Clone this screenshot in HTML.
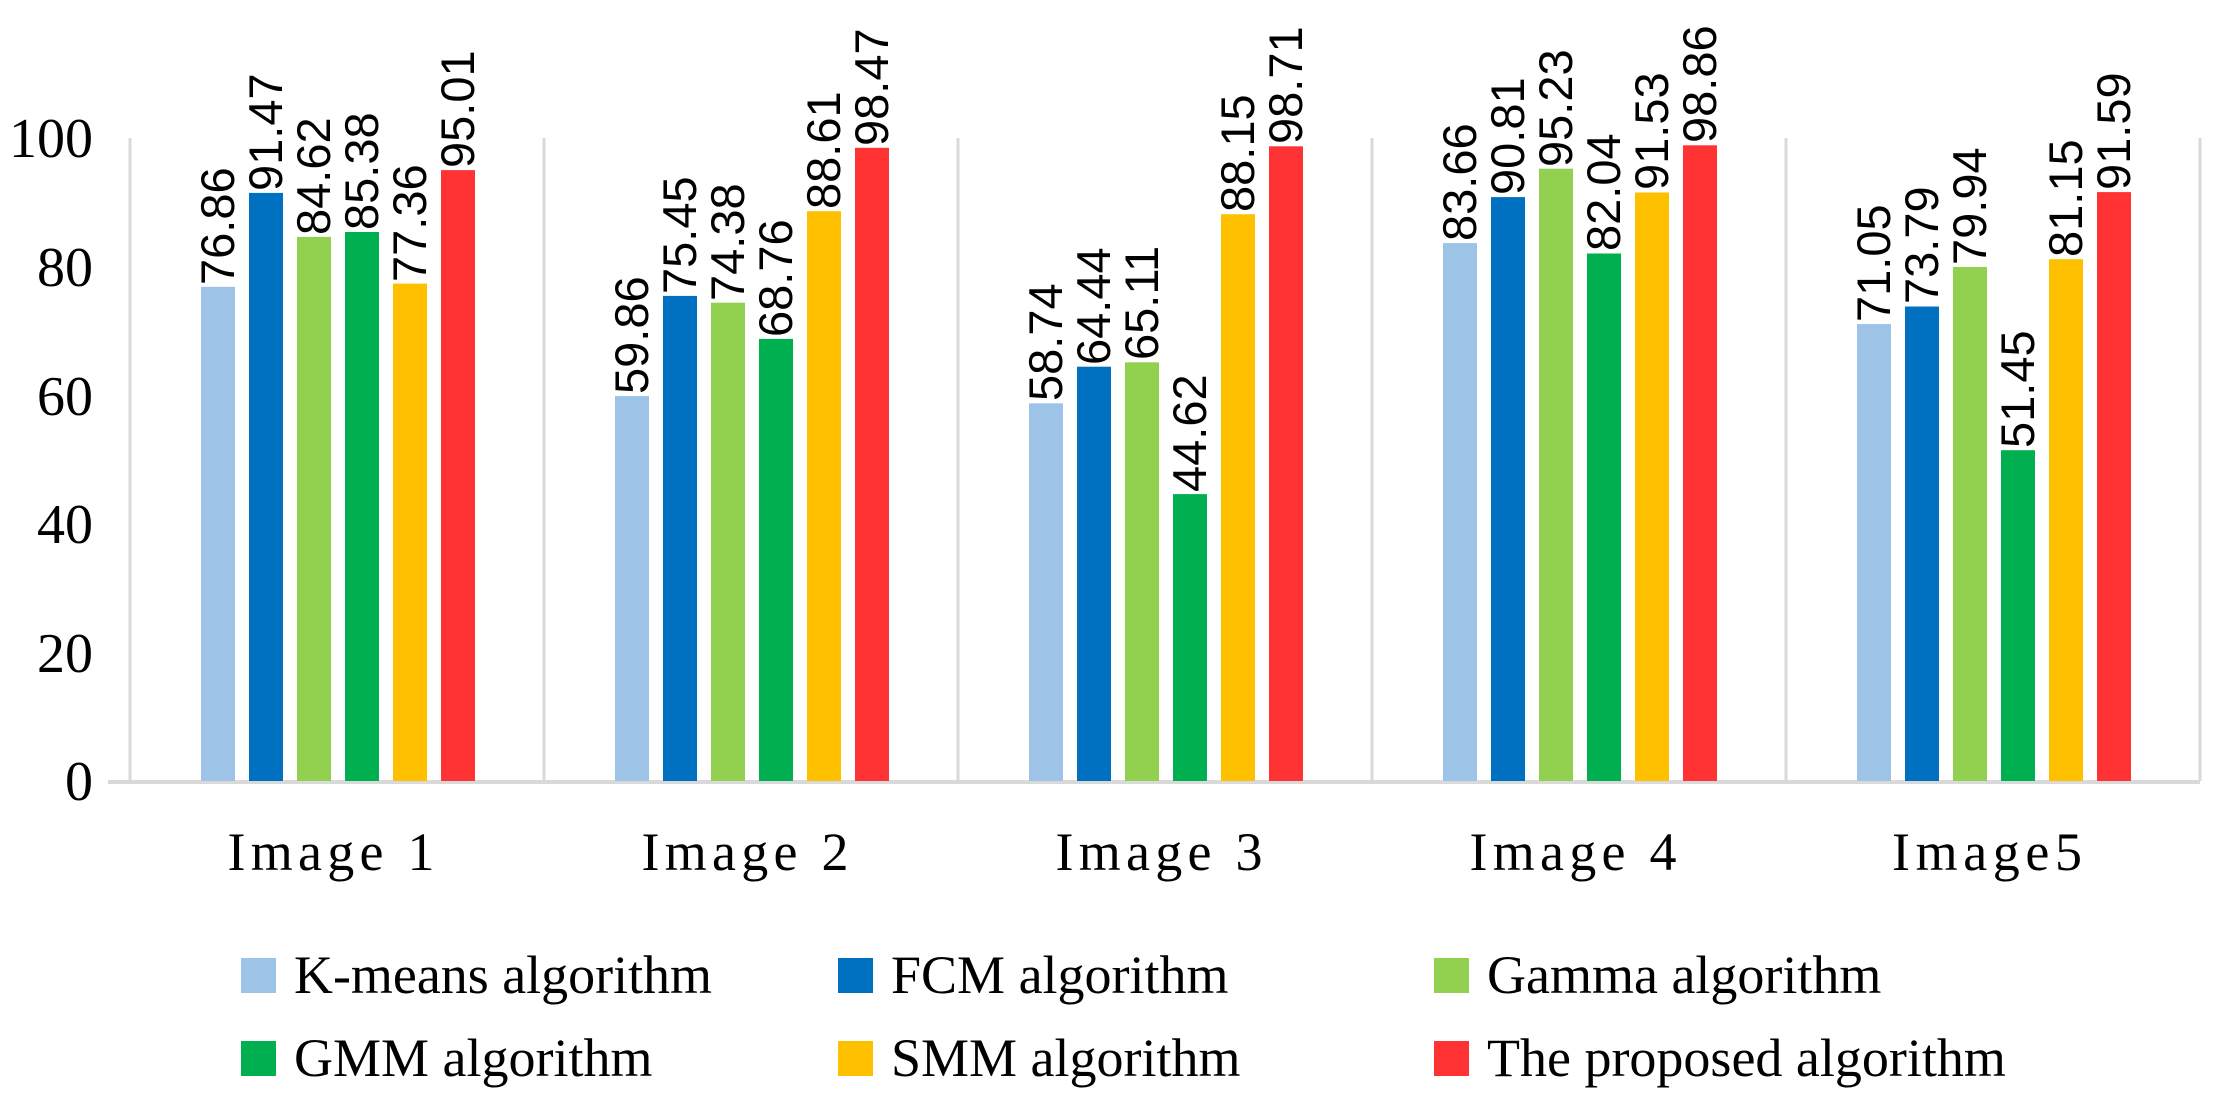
<!DOCTYPE html>
<html><head><meta charset="utf-8"><style>
html,body{margin:0;padding:0;background:#fff;width:2226px;height:1099px;overflow:hidden}
svg text{fill:#000}
</style></head><body>
<svg width="2226" height="1099" viewBox="0 0 2226 1099" xmlns="http://www.w3.org/2000/svg">
<g stroke="#d9d9d9" stroke-width="3">
<line x1="130" y1="138" x2="130" y2="781"/>
<line x1="544" y1="138" x2="544" y2="781"/>
<line x1="958" y1="138" x2="958" y2="781"/>
<line x1="1372" y1="138" x2="1372" y2="781"/>
<line x1="1786" y1="138" x2="1786" y2="781"/>
<line x1="2200" y1="138" x2="2200" y2="781"/>
<line x1="108" y1="782" x2="2200" y2="782" stroke-width="4"/>
</g>
<g font-family="Liberation Serif, serif" font-size="56" text-anchor="end">
<text x="93" y="157">100</text>
<text x="93" y="286">80</text>
<text x="93" y="415">60</text>
<text x="93" y="543">40</text>
<text x="93" y="672">20</text>
<text x="93" y="800">0</text>
</g>
<g font-family="Liberation Serif, serif" font-size="54" text-anchor="middle">
<text x="331" y="870" textLength="207" lengthAdjust="spacing">Image 1</text>
<text x="745" y="870" textLength="207" lengthAdjust="spacing">Image 2</text>
<text x="1159" y="870" textLength="207" lengthAdjust="spacing">Image 3</text>
<text x="1573" y="870" textLength="207" lengthAdjust="spacing">Image 4</text>
<text x="1987" y="870" textLength="190" lengthAdjust="spacing">Image5</text>
</g>
<g>
<rect x="241" y="958" width="35" height="35" fill="#9dc3e6"/>
<rect x="838" y="958" width="35" height="35" fill="#0070c0"/>
<rect x="1434" y="958" width="35" height="35" fill="#92d050"/>
<rect x="241" y="1041" width="35" height="35" fill="#00b050"/>
<rect x="838" y="1041" width="35" height="35" fill="#ffc000"/>
<rect x="1434" y="1041" width="35" height="35" fill="#ff3333"/>
</g>
<g font-family="Liberation Serif, serif" font-size="54">
<text x="294" y="993" textLength="418" lengthAdjust="spacingAndGlyphs">K-means algorithm</text>
<text x="891" y="993">FCM algorithm</text>
<text x="1487" y="993">Gamma algorithm</text>
<text x="294" y="1076">GMM algorithm</text>
<text x="891" y="1076">SMM algorithm</text>
<text x="1487" y="1076">The proposed algorithm</text>
</g>
<g font-family="Liberation Sans, sans-serif" font-size="47">
<rect x="201" y="286.8" width="34" height="494.2" fill="#9dc3e6"/><text transform="translate(234,285) rotate(-90)">76.86</text>
<rect x="249" y="192.9" width="34" height="588.1" fill="#0070c0"/><text transform="translate(282,191) rotate(-90)">91.47</text>
<rect x="297" y="236.9" width="34" height="544.1" fill="#92d050"/><text transform="translate(330,235) rotate(-90)">84.62</text>
<rect x="345" y="232.0" width="34" height="549.0" fill="#00b050"/><text transform="translate(378,230) rotate(-90)">85.38</text>
<rect x="393" y="283.6" width="34" height="497.4" fill="#ffc000"/><text transform="translate(426,282) rotate(-90)">77.36</text>
<rect x="441" y="170.1" width="34" height="610.9" fill="#ff3333"/><text transform="translate(474,168) rotate(-90)">95.01</text>

<rect x="615" y="396.1" width="34" height="384.9" fill="#9dc3e6"/><text transform="translate(648,394) rotate(-90)">59.86</text>
<rect x="663" y="295.9" width="34" height="485.1" fill="#0070c0"/><text transform="translate(696,294) rotate(-90)">75.45</text>
<rect x="711" y="302.7" width="34" height="478.3" fill="#92d050"/><text transform="translate(744,301) rotate(-90)">74.38</text>
<rect x="759" y="338.9" width="34" height="442.1" fill="#00b050"/><text transform="translate(792,337) rotate(-90)">68.76</text>
<rect x="807" y="211.2" width="34" height="569.8" fill="#ffc000"/><text transform="translate(840,209) rotate(-90)">88.61</text>
<rect x="855" y="147.8" width="34" height="633.2" fill="#ff3333"/><text transform="translate(888,146) rotate(-90)">98.47</text>

<rect x="1029" y="403.3" width="34" height="377.7" fill="#9dc3e6"/><text transform="translate(1062,401) rotate(-90)">58.74</text>
<rect x="1077" y="366.7" width="34" height="414.3" fill="#0070c0"/><text transform="translate(1110,365) rotate(-90)">64.44</text>
<rect x="1125" y="362.3" width="34" height="418.7" fill="#92d050"/><text transform="translate(1158,360) rotate(-90)">65.11</text>
<rect x="1173" y="494.1" width="34" height="286.9" fill="#00b050"/><text transform="translate(1206,492) rotate(-90)">44.62</text>
<rect x="1221" y="214.2" width="34" height="566.8" fill="#ffc000"/><text transform="translate(1254,212) rotate(-90)">88.15</text>
<rect x="1269" y="146.3" width="34" height="634.7" fill="#ff3333"/><text transform="translate(1302,144) rotate(-90)">98.71</text>

<rect x="1443" y="243.1" width="34" height="537.9" fill="#9dc3e6"/><text transform="translate(1476,241) rotate(-90)">83.66</text>
<rect x="1491" y="197.1" width="34" height="583.9" fill="#0070c0"/><text transform="translate(1524,195) rotate(-90)">90.81</text>
<rect x="1539" y="168.7" width="34" height="612.3" fill="#92d050"/><text transform="translate(1572,167) rotate(-90)">95.23</text>
<rect x="1587" y="253.5" width="34" height="527.5" fill="#00b050"/><text transform="translate(1620,251) rotate(-90)">82.04</text>
<rect x="1635" y="192.5" width="34" height="588.5" fill="#ffc000"/><text transform="translate(1668,190) rotate(-90)">91.53</text>
<rect x="1683" y="145.3" width="34" height="635.7" fill="#ff3333"/><text transform="translate(1716,143) rotate(-90)">98.86</text>

<rect x="1857" y="324.1" width="34" height="456.9" fill="#9dc3e6"/><text transform="translate(1890,322) rotate(-90)">71.05</text>
<rect x="1905" y="306.5" width="34" height="474.5" fill="#0070c0"/><text transform="translate(1938,304) rotate(-90)">73.79</text>
<rect x="1953" y="267.0" width="34" height="514.0" fill="#92d050"/><text transform="translate(1986,265) rotate(-90)">79.94</text>
<rect x="2001" y="450.2" width="34" height="330.8" fill="#00b050"/><text transform="translate(2034,448) rotate(-90)">51.45</text>
<rect x="2049" y="259.2" width="34" height="521.8" fill="#ffc000"/><text transform="translate(2082,257) rotate(-90)">81.15</text>
<rect x="2097" y="192.1" width="34" height="588.9" fill="#ff3333"/><text transform="translate(2130,190) rotate(-90)">91.59</text>
</g>
</svg>
</body></html>
